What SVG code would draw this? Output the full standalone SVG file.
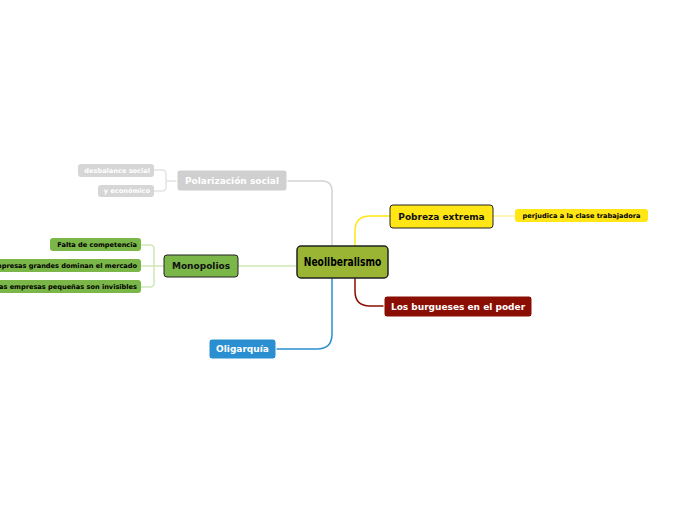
<svg xmlns="http://www.w3.org/2000/svg" width="696" height="520" viewBox="0 0 696 520">
<style>
.t{font-family:"DejaVu Sans",sans-serif;font-weight:bold;text-anchor:middle;dominant-baseline:central;font-size:9px}
.s{font-family:"DejaVu Sans",sans-serif;font-weight:bold;font-size:6.6px;dominant-baseline:central}
.c{fill:none;stroke-width:1.5}
</style>
<rect width="696" height="520" fill="#fff"/>
<g id="connectors">
<path class="c" stroke="#d4d4d4" d="M287,181 H322 Q332,181 332,191 V246"/>
<path class="c" stroke="#cfe8b6" d="M238,266 H297"/>
<path class="c" stroke="#2a8fd0" d="M332,278 V334 Q332,349 317,349 H276"/>
<path class="c" stroke="#ffe614" d="M355,246 V231 Q355,216 370,216 H390"/>
<path class="c" stroke="#8b0e04" d="M355,278 V291 Q355,306 370,306 H384"/>
<path class="c" stroke="#e4e4e4" stroke-width="1" d="M177,181 H166 M154,170 H162 Q166,170 166,174 V187 Q166,191 162,191 H154"/>
<path class="c" stroke="#cfe8b6" stroke-width="1" d="M164,266 H141 M141,245 H150 Q154,245 154,249 V283 Q154,287 150,287 H141"/>
<path class="c" stroke="#fff3a0" stroke-width="1" d="M493,216 H515"/>
</g>
<g id="central"><rect x="297" y="246" width="91" height="32" rx="4" fill="#9ab534" stroke="#222" stroke-width="1.5"/><text x="342.5" y="262" class="t" style="font-family:'DejaVu Sans Condensed',sans-serif;font-size:12px" transform="translate(342.5 0) scale(0.85 1) translate(-342.5 0)">Neoliberalismo</text></g>
<g id="polarizacion"><rect x="177" y="170" width="110" height="21" rx="3" fill="#d0d0d0" stroke="#fff"/><text x="232" y="180.5" class="t" fill="#fff">Polarización social</text></g>
<g id="desbalance"><rect x="78" y="164" width="76" height="13" rx="3" fill="#d6d6d6"/><text x="150" y="170.5" class="s" fill="#fff" text-anchor="end">desbalance social</text></g>
<g id="economico"><rect x="98" y="185" width="56" height="12" rx="3" fill="#d6d6d6"/><text x="150" y="191" class="s" fill="#fff" text-anchor="end">y económico</text></g>
<g id="monopolios"><rect x="164" y="255" width="74" height="22" rx="3" fill="#7ab648" stroke="#222"/><text x="201" y="266" class="t" fill="#111">Monopolios</text></g>
<g id="falta"><rect x="50" y="238" width="91" height="13" rx="3" fill="#7ab648"/><text x="137" y="244.5" class="s" text-anchor="end">Falta de competencia</text></g>
<g id="grandes"><rect x="-10" y="259" width="151" height="13" rx="3" fill="#7ab648"/><text x="137" y="265.5" class="s" text-anchor="end">Empresas grandes dominan el mercado</text></g>
<g id="pequenas"><rect x="-10" y="280" width="151" height="13" rx="3" fill="#7ab648"/><text x="137" y="286.5" class="s" text-anchor="end">Las empresas pequeñas son invisibles</text></g>
<g id="oligarquia"><rect x="209" y="339" width="67" height="20" rx="3" fill="#2a8fd0" stroke="#fff"/><text x="242.5" y="349" class="t" fill="#fff">Oligarquía</text></g>
<g id="pobreza"><rect x="390" y="205" width="103" height="23" rx="3" fill="#ffe614" stroke="#222"/><text x="441.5" y="216.5" class="t" fill="#111">Pobreza extrema</text></g>
<g id="perjudica"><rect x="515" y="209" width="133" height="13" rx="3" fill="#ffe614"/><text x="581.5" y="215.5" class="s" text-anchor="middle">perjudica a la clase trabajadora</text></g>
<g id="burgueses"><rect x="384" y="296" width="148" height="21" rx="3" fill="#8b0e04" stroke="#fff"/><text x="458" y="306.5" class="t" fill="#fff">Los burgueses en el poder</text></g>
</svg>
